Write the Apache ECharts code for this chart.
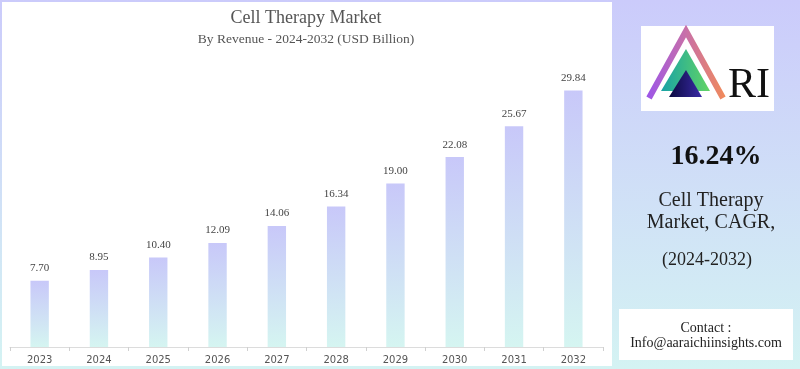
<!DOCTYPE html>
<html>
<head>
<meta charset="utf-8">
<script src="https://cdn.jsdelivr.net/npm/echarts@6/dist/echarts.min.js"></script>
<style>html,body{margin:0;padding:0;}#c{width:800px;height:369px;}</style>
</head>
<body>
<div id="c"></div>
<script>
const categories = ['2023','2024','2025','2026','2027','2028','2029','2030','2031','2032'];
const revenue = [7.70, 8.95, 10.40, 12.09, 14.06, 16.34, 19.00, 22.08, 25.67, 29.84];
const titleText = 'Cell Therapy Market';
const subtitleText = 'By Revenue - 2024-2032 (USD Billion)';
const cagrText = '16.24%';
const cagrLabel1 = 'Cell Therapy';
const cagrLabel2 = 'Market, CAGR,';
const periodText = '(2024-2032)';
const contactTitle = 'Contact :';
const contactEmail = 'Info@aaraichiinsights.com';

const serif = 'Liberation Serif, DejaVu Serif, serif';
const chart = echarts.init(document.getElementById('c'));
chart.setOption({
  backgroundColor: new echarts.graphic.LinearGradient(0,0,0,1,[
    {offset:0,color:'#cbcbfb'},{offset:1,color:'#d4f3f3'}]),
  animation:false,
  grid:{left:10,right:197,top:89,bottom:22},
  xAxis:{type:'category',data:categories,
    axisLine:{lineStyle:{color:'#dcdcdc'}},
    axisTick:{show:true,length:4,lineStyle:{color:'#d0d0d0'}},
    axisLabel:{color:'#555',fontSize:10,margin:8,fontFamily:'DejaVu Sans, sans-serif'}},
  yAxis:{type:'value',min:0,max:30,show:false,splitLine:{show:false}},
  series:[{type:'bar',data:revenue,barWidth:'31%',z:5,
    itemStyle:{color:new echarts.graphic.LinearGradient(0,0,0,1,[
      {offset:0,color:'#c8c8f9'},{offset:1,color:'#d5f5f1'}])},
    label:{show:true,position:'top',distance:7,color:'#444',fontSize:11,fontFamily:serif,
      formatter:p=>p.value.toFixed(2)}}],
  graphic:[
    {type:'rect',z:-10,shape:{x:2,y:2,width:610,height:364},style:{fill:'#ffffff'}},
    {type:'text',z:10,x:306,y:18,style:{text:titleText,fill:'#555',font:'18px '+serif,textAlign:'center',textVerticalAlign:'middle'}},
    {type:'text',z:10,x:306,y:39,style:{text:subtitleText,fill:'#555',font:'13.5px '+serif,textAlign:'center',textVerticalAlign:'middle'}},
    {type:'rect',z:10,shape:{x:641,y:26,width:133,height:85},style:{fill:'#ffffff'}},
    {type:'polyline',z:11,shape:{points:[[649,98],[686,31],[723,98]]},
      style:{fill:null,lineWidth:6,lineJoin:'miter',stroke:new echarts.graphic.LinearGradient(0,0,1,0,[
        {offset:0,color:'#9b55ea'},{offset:0.5,color:'#c870a8'},{offset:1,color:'#f28b58'}])}},
    {type:'polygon',z:11,shape:{points:[[686,49],[661,91],[710,91]]},
      style:{fill:new echarts.graphic.LinearGradient(0,0,1,0,[
        {offset:0,color:'#18a2a6'},{offset:1,color:'#62d464'}])}},
    {type:'polygon',z:12,shape:{points:[[686,70],[669,97],[702,97]]},
      style:{fill:new echarts.graphic.LinearGradient(0,0,1,0,[
        {offset:0,color:'#0b0a40'},{offset:1,color:'#3a2aa6'}])}},
    {type:'text',z:12,x:749,y:86,style:{text:'RI',fill:'#111',font:'42px '+serif,textAlign:'center',textVerticalAlign:'middle'}},
    {type:'text',z:10,x:716,y:157,style:{text:cagrText,fill:'#111',font:'bold 28px '+serif,textAlign:'center',textVerticalAlign:'middle'}},
    {type:'text',z:10,x:711,y:201,style:{text:cagrLabel1,fill:'#222',font:'20px '+serif,textAlign:'center',textVerticalAlign:'middle'}},
    {type:'text',z:10,x:711,y:223,style:{text:cagrLabel2,fill:'#222',font:'20px '+serif,textAlign:'center',textVerticalAlign:'middle'}},
    {type:'text',z:10,x:707,y:260,style:{text:periodText,fill:'#222',font:'18px '+serif,textAlign:'center',textVerticalAlign:'middle'}},
    {type:'rect',z:10,shape:{x:619,y:309,width:174,height:51},style:{fill:'#ffffff'}},
    {type:'text',z:11,x:706,y:328,style:{text:contactTitle,fill:'#222',font:'14px '+serif,textAlign:'center',textVerticalAlign:'middle'}},
    {type:'text',z:11,x:706,y:343,style:{text:contactEmail,fill:'#222',font:'14px '+serif,textAlign:'center',textVerticalAlign:'middle'}}
  ]
});
</script>
</body>
</html>
